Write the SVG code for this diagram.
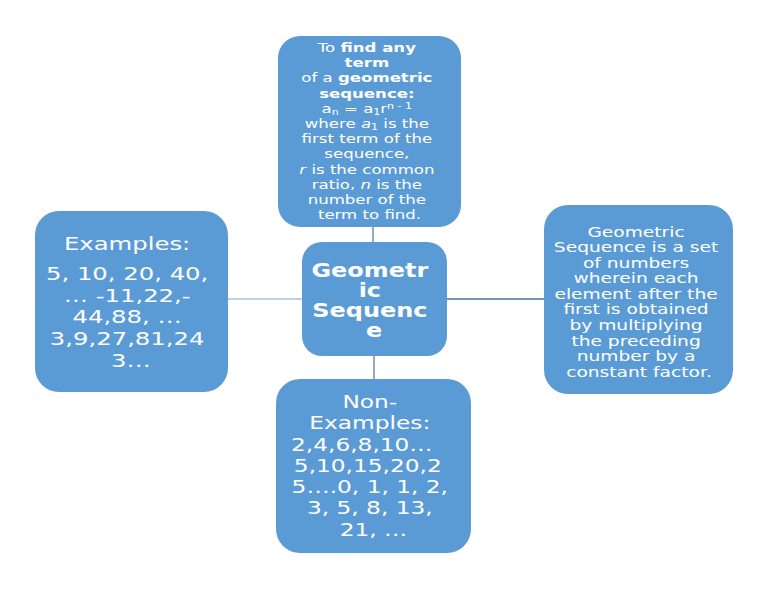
<svg xmlns="http://www.w3.org/2000/svg" width="768" height="594" viewBox="0 0 768 594">
<style>
.box{fill:#5b9bd5;}
.t{font-family:"DejaVu Sans",Verdana,sans-serif;fill:#ffffff;text-anchor:middle;}
.b{font-weight:bold;}
.i{font-style:italic;}
.conn{fill:none;stroke-width:1.5;}
</style>
<rect width="768" height="594" fill="#ffffff"/>
<g id="connectors">
<line class="conn" x1="373" y1="227" x2="373" y2="243" stroke="#6f8fb5"/>
<line class="conn" x1="228" y1="299" x2="302" y2="299" stroke="#a8c0dc"/>
<line class="conn" x1="447" y1="299" x2="544" y2="299" stroke="#4a72a3"/>
<line class="conn" x1="374" y1="356" x2="374" y2="380" stroke="#6f8fb5"/>
</g>
<g id="node-formula">
<rect class="box" x="278" y="36" width="183" height="191" rx="22"/>
<g transform="translate(369.5,0) scale(1.38,1)">
<text class="t" font-size="12">
<tspan x="0" y="52">To <tspan class="b">find any</tspan></tspan>
<tspan x="0" y="67.2" class="b">term</tspan>
<tspan x="0" y="82.4">of a <tspan class="b">geometric</tspan></tspan>
<tspan x="0" y="97.6" class="b">sequence:</tspan>
<tspan x="0" y="112.8">a<tspan font-size="8" dy="2">n</tspan><tspan dy="-2"> = a</tspan><tspan font-size="8" dy="2">1</tspan><tspan dy="-2">r</tspan><tspan font-size="8" dy="-4">n - 1</tspan></tspan>
<tspan x="0" y="128">where <tspan class="i">a</tspan><tspan font-size="8" dy="2">1</tspan><tspan dy="-2"> is the</tspan></tspan>
<tspan x="0" y="143.2">first term of the</tspan>
<tspan x="0" y="158.4">sequence,</tspan>
<tspan x="0" y="173.6"><tspan class="i">r</tspan> is the common</tspan>
<tspan x="0" y="188.8">ratio, <tspan class="i">n</tspan> is the</tspan>
<tspan x="0" y="204">number of the</tspan>
<tspan x="0" y="219.2">term to find.</tspan>
</text>
</g>
</g>
<g id="node-examples">
<rect class="box" x="35" y="211" width="193" height="181" rx="24"/>
<g transform="translate(131,0) scale(1.39,1)">
<text class="t" font-size="17.5">
<tspan x="0" y="250">Examples:</tspan>
<tspan x="0" y="280">5, 10, 20, 40,</tspan>
<tspan x="0" y="302">… -11,22,-</tspan>
<tspan x="0" y="323.5">44,88, …</tspan>
<tspan x="0" y="345">3,9,27,81,24</tspan>
<tspan x="0" y="367">3…</tspan>
</text>
</g>
</g>
<g id="node-center">
<rect class="box" x="302" y="242" width="145" height="114" rx="20"/>
<g transform="translate(374,0) scale(1.26,1)">
<text class="t b" font-size="19">
<tspan x="0" y="276.7">Geometr</tspan>
<tspan x="0" y="296.7">ic</tspan>
<tspan x="0" y="316.7">Sequenc</tspan>
<tspan x="0" y="336.7">e</tspan>
</text>
</g>
</g>
<g id="node-definition">
<rect class="box" x="544" y="205" width="189" height="189" rx="24"/>
<g transform="translate(639,0) scale(1.36,1)">
<text class="t" font-size="13.7">
<tspan x="0" y="236.7">Geometric</tspan>
<tspan x="0" y="252.3">Sequence is a set</tspan>
<tspan x="0" y="267.8">of numbers</tspan>
<tspan x="0" y="283.4">wherein each</tspan>
<tspan x="0" y="298.9">element after the</tspan>
<tspan x="0" y="314.5">first is obtained</tspan>
<tspan x="0" y="330">by multiplying</tspan>
<tspan x="0" y="345.6">the preceding</tspan>
<tspan x="0" y="361.1">number by a</tspan>
<tspan x="0" y="376.7">constant factor.</tspan>
</text>
</g>
</g>
<g id="node-nonexamples">
<rect class="box" x="276" y="379" width="195" height="174" rx="24"/>
<g transform="translate(373.5,0) scale(1.33,1)">
<text class="t" font-size="17.5">
<tspan x="0" y="408.3">Non-</tspan>
<tspan x="0" y="429">Examples:</tspan>
<tspan x="-6" y="451">2,4,6,8,10…</tspan>
<tspan x="-1.5" y="472">5,10,15,20,2</tspan>
<tspan x="0" y="493.5">5….0, 1, 1, 2,</tspan>
<tspan x="0" y="514.5">3, 5, 8, 13,</tspan>
<tspan x="0" y="535.7">21, …</tspan>
</text>
</g>
</g>
</svg>
